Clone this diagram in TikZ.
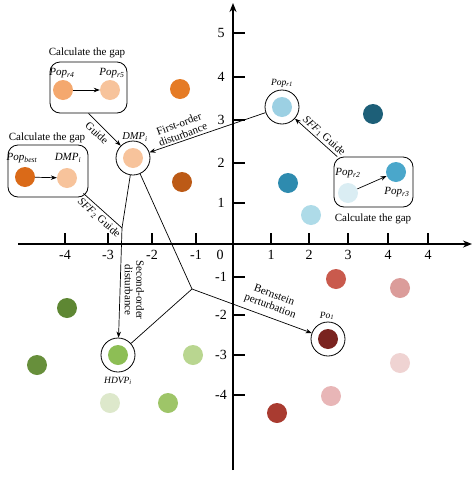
\documentclass[tikz,border=0pt]{standalone}
\usepackage{fontspec}
\setmainfont{Liberation Serif}
\usetikzlibrary{arrows.meta,calc}

\definecolor{orA}{HTML}{F4A86E}
\definecolor{orB}{HTML}{F7C39B}
\definecolor{orC}{HTML}{E57B25}
\definecolor{orD}{HTML}{DA6A18}
\definecolor{orE}{HTML}{BC5A16}
\definecolor{blA}{HTML}{9CD0E3}
\definecolor{blB}{HTML}{1D5F78}
\definecolor{blC}{HTML}{4AA7CB}
\definecolor{blD}{HTML}{DAEDF3}
\definecolor{blE}{HTML}{2E8BAF}
\definecolor{blF}{HTML}{AEDBE8}
\definecolor{grA}{HTML}{5E8733}
\definecolor{grB}{HTML}{678F3B}
\definecolor{grC}{HTML}{8DBE55}
\definecolor{grD}{HTML}{B9D690}
\definecolor{grE}{HTML}{DDE8CB}
\definecolor{grF}{HTML}{9EC568}
\definecolor{rdA}{HTML}{C95A4D}
\definecolor{rdB}{HTML}{DB9C9A}
\definecolor{rdC}{HTML}{7A231F}
\definecolor{rdD}{HTML}{EFD3D2}
\definecolor{rdE}{HTML}{E8B6B7}
\definecolor{rdF}{HTML}{A93B30}

\begin{document}
\begin{tikzpicture}[x=1pt,y=-1pt,
  axis/.style={line width=1.6pt},
  dot/.style={circle,fill=#1,minimum size=20pt,inner sep=0pt},
  ring/.style={circle,draw,line width=0.8pt,minimum size=34pt,inner sep=0pt},
  gapbox/.style={draw,rounded corners=10pt,line width=0.8pt,inner sep=0pt},
  link/.style={line width=0.7pt},
  arr/.style={link,-{Stealth[length=6pt,width=4.5pt]}},
  poplbl/.style={font=\fontsize{11}{12}\selectfont\itshape,inner sep=0pt},
  ringlbl/.style={font=\fontsize{9.5}{10}\selectfont\itshape,inner sep=0pt},
  txt/.style={font=\fontsize{11}{11.5}\selectfont,inner sep=0pt,align=center},
  ticklbl/.style={font=\fontsize{14}{14}\selectfont,inner sep=0pt}
]
\useasboundingbox (0,0) rectangle (474,477);

% axes
\draw[axis,-{Stealth[length=9pt,width=7pt]}] (18,244) -- (472,244);
\draw[axis,-{Stealth[length=9pt,width=7pt]}] (233,470) -- (233,3);
\foreach \x/\t in {65/-4,108/-3,152/-2,196/-1,271/1,309/2,348/3,388/4,428/4}
{
  \draw[axis] (\x,244) -- (\x,233);
  \node[ticklbl] at (\x,255) {\t};
}
\node[ticklbl] at (220,255) {0};
\foreach \y/\t in {33/5,77/4,120/3,163/2,203/1,277/-1,315/-2,355/-3,395/-4}
{
  \draw[axis] (233,\y) -- (245,\y);
  \node[ticklbl] at (221,\y) {\t};
}

% orange
\node[gapbox,minimum width=77pt,minimum height=51pt] (boxA) at (88.5,87.5) {};
\node[txt] at (87,53) {Calculate the gap};
\node[dot=orA] (r4) at (63,90) {};
\node[dot=orB] (r5) at (110,90) {};
\node[poplbl] at (62,73) {Pop\textsubscript{r4}};
\node[poplbl] at (112,73) {Pop\textsubscript{r5}};
\draw[arr] (r4) -- (r5);

\node[gapbox,minimum width=80pt,minimum height=52pt] (boxB) at (48,171) {};
\node[txt] at (47,138) {Calculate the gap};
\node[dot=orD] (best) at (25,177) {};
\node[dot=orB] (dmpB) at (67,178) {};
\node[poplbl] at (22,158) {Pop\textsubscript{best}};
\node[poplbl] at (68,158) {DMP\textsubscript{i}};
\draw[arr] (best) -- (dmpB);

\node[dot=orB] (dmpdot) at (133,158) {};
\node[ring] (dmp) at (133,158) {};
\node[ringlbl,font=\fontsize{10.5}{11}\selectfont\itshape] at (135,137) {DMP\textsubscript{i}};
\node[dot=orC] at (180,89) {};
\node[dot=orE] at (182,182) {};

% blue
\node[dot=blA] (r1dot) at (282,107) {};
\node[ring] (r1) at (282,107) {};
\node[ringlbl] at (282,83) {Pop\textsubscript{r1}};
\node[dot=blB] at (373,114) {};
\node[dot=blE] at (288,183) {};
\node[dot=blF] at (311,215) {};
\node[gapbox,minimum width=79pt,minimum height=50pt] (boxC) at (373.5,182) {};
\node[txt] at (373,219) {Calculate the gap};
\node[dot=blD] (r2) at (348,193) {};
\node[dot=blC] (r3) at (396,172) {};
\node[poplbl] at (348,173) {Pop\textsubscript{r2}};
\node[poplbl] at (397,192) {Pop\textsubscript{r3}};
\draw[arr] (r2) -- (r3);

% green
\node[dot=grA] at (67,308) {};
\node[dot=grB] at (37,365) {};
\node[dot=grC] (hdvpdot) at (118,355) {};
\node[ring] (hdvp) at (118,355) {};
\node[ringlbl] at (118,381) {HDVP\textsubscript{i}};
\node[dot=grD] at (193,355) {};
\node[dot=grE] at (110,403) {};
\node[dot=grF] at (168,403) {};

% red
\node[dot=rdA] at (336,279) {};
\node[dot=rdB] at (400,288) {};
\node[dot=rdC] (podot) at (328,339) {};
\node[ring] (po) at (328,339) {};
\node[ringlbl] at (327,316) {Po\textsubscript{1}};
\node[dot=rdD] at (400,363) {};
\node[dot=rdE] at (331,396) {};
\node[dot=rdF] at (277,413) {};

% connectors
\coordinate (jA) at (122,228);
\coordinate (jB) at (192,289);
\draw[arr] (boxA.south) -- (dmp);
\node[txt,rotate=-43] at (97,133) {Guide};
\draw[arr] (r1) -- (dmp);
\node[txt,rotate=20] at (181,129) {First-order\\disturbance};
\draw[arr] (boxC.145) -- (r1);
\node[txt,rotate=-42] at (324,136) {\textit{SFF}\textsubscript{1} Guide};
\draw[link] ($(boxB.south east)+(-5,-4)$) -- (jA);
\node[txt,rotate=-42] at (99,218) {\textit{SFF}\textsubscript{2} Guide};
\draw[link] (dmp) -- (jA);
\draw[link] (dmp) -- (jB);
\draw[arr] (jA) -- (hdvp);
\node[txt,rotate=-90] at (134.5,290) {Second-order\\disturbance};
\draw[link] (jB) -- (hdvp);
\draw[arr] (jB) -- (po);
\node[txt,rotate=-20] at (272,301) {Bernstein\\perturbation};
\end{tikzpicture}
\end{document}
